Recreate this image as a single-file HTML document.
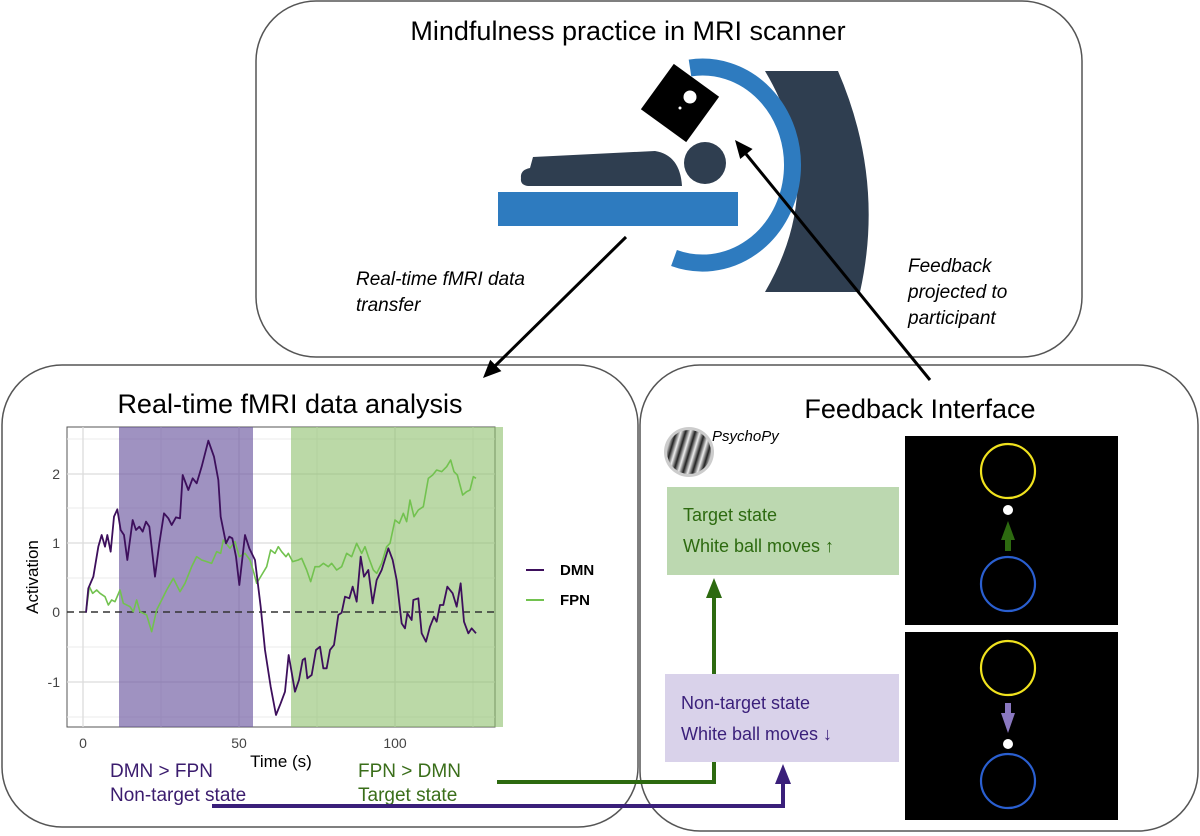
<!DOCTYPE html>
<html><head><meta charset="utf-8"><style>
html,body{margin:0;padding:0;background:#fff}
svg{display:block}
text{font-family:"Liberation Sans",sans-serif}
</style></head><body>
<svg width="1200" height="836" viewBox="0 0 1200 836" xmlns="http://www.w3.org/2000/svg">
<defs>
<linearGradient id="pg" x1="0" y1="0" x2="1" y2="0.3" spreadMethod="repeat"><stop offset="0" stop-color="#222"/><stop offset="0.1" stop-color="#eee"/><stop offset="0.2" stop-color="#222"/><stop offset="0.3" stop-color="#eee"/><stop offset="0.4" stop-color="#222"/><stop offset="0.5" stop-color="#eee"/><stop offset="0.6" stop-color="#222"/><stop offset="0.7" stop-color="#eee"/><stop offset="0.8" stop-color="#222"/><stop offset="0.9" stop-color="#eee"/><stop offset="1" stop-color="#222"/></linearGradient>
</defs>
<!-- boxes -->
<rect x="256" y="1" width="826" height="356" rx="60" fill="none" stroke="#555" stroke-width="1.5"/>
<rect x="2" y="365" width="636" height="462" rx="60" fill="none" stroke="#555" stroke-width="1.5"/>
<rect x="640" y="365" width="558" height="466" rx="60" fill="none" stroke="#555" stroke-width="1.5"/>

<text x="628" y="40" font-size="27" text-anchor="middle">Mindfulness practice in MRI scanner</text>
<text x="290" y="413" font-size="27" text-anchor="middle">Real-time fMRI data analysis</text>
<text x="920" y="418" font-size="27" text-anchor="middle">Feedback Interface</text>

<!-- MRI -->
<path d="M765,71 L838,71 Q885,180 860,292 L765,292 Q830,180 765,71 Z" fill="#2f3e50"/>
<path d="M690,68 A90,98 0 1 1 674,258" fill="none" stroke="#2e7bbf" stroke-width="17"/>
<rect x="498" y="192" width="240" height="34" fill="#2e7bbf"/>
<path d="M533,157 L655,151 Q680,155 682,186 L528,186 Q520,185 521,178 Q520,170 530,168 Z" fill="#2f3e50"/>
<circle cx="705" cy="163" r="21" fill="#2f3e50"/>
<g transform="translate(680,103) rotate(36)"><rect x="-28" y="-28" width="56" height="56" fill="#000"/></g>
<circle cx="690" cy="97" r="6.5" fill="#fff"/><circle cx="680" cy="108" r="1.5" fill="#fff"/>

<!-- arrows top -->
<line x1="626" y1="237" x2="495" y2="366" stroke="#000" stroke-width="3"/>
<path d="M483,378 L501.4,371.1 L490.2,359.7 Z" fill="#000"/>
<line x1="930" y1="380" x2="746" y2="154" stroke="#000" stroke-width="3"/>
<path d="M735,140 L752.6,149 L740.2,159 Z" fill="#000"/>
<text font-size="19" font-style="italic" x="356" y="285">Real-time fMRI data</text>
<text font-size="19" font-style="italic" x="356" y="311">transfer</text>
<text font-size="19" font-style="italic" x="908" y="272">Feedback</text>
<text font-size="19" font-style="italic" x="908" y="298">projected to</text>
<text font-size="19" font-style="italic" x="908" y="324">participant</text>

<!-- chart -->
<rect x="67" y="427" width="428" height="300" fill="#fff" stroke="#555" stroke-width="1"/>
<g stroke="#ebebeb" stroke-width="1">
<line x1="67" y1="439" x2="495" y2="439"/><line x1="67" y1="508" x2="495" y2="508"/><line x1="67" y1="578" x2="495" y2="578"/><line x1="67" y1="647" x2="495" y2="647"/><line x1="67" y1="717" x2="495" y2="717"/>
<line x1="161" y1="427" x2="161" y2="727"/><line x1="317" y1="427" x2="317" y2="727"/><line x1="473" y1="427" x2="473" y2="727"/>
</g>
<g stroke="#dcdcdc" stroke-width="1.3">
<line x1="67" y1="474" x2="495" y2="474"/><line x1="67" y1="543" x2="495" y2="543"/><line x1="67" y1="682" x2="495" y2="682"/>
<line x1="83" y1="427" x2="83" y2="727"/><line x1="239" y1="427" x2="239" y2="727"/><line x1="395" y1="427" x2="395" y2="727"/>
</g>
<rect x="119" y="427" width="134" height="300" fill="#6b58a0" opacity="0.65"/>
<rect x="291" y="427" width="212" height="300" fill="#8dbf6c" opacity="0.6"/>
<line x1="67" y1="612" x2="495" y2="612" stroke="#333" stroke-width="1.5" stroke-dasharray="7,5"/>
<g transform="translate(0,420) scale(0.33333)" fill="none" stroke-linejoin="round">
<polyline vector-effect="non-scaling-stroke" stroke="#72c24f" stroke-width="1.6" points="258,578 268,500 278,520 290,510 300,520 315,530 325,555 335,540 345,545 360,510 370,550 390,560 400,575 410,540 420,575 440,585 455,635 470,570 485,540 500,510 520,475 540,515 555,490 575,440 590,410 605,420 620,425 635,430 650,395 662,400 670,360 690,385 705,365 718,410 735,400 750,420 762,460 770,490 785,465 800,440 812,390 825,400 835,380 845,395 858,410 865,400 878,425 895,420 905,415 920,450 932,485 945,440 958,440 970,430 985,440 995,430 1010,450 1025,440 1040,400 1055,410 1070,370 1085,400 1095,380 1105,410 1120,450 1130,460 1145,430 1160,380 1170,370 1185,300 1198,310 1210,280 1220,305 1230,240 1242,290 1255,270 1270,260 1285,175 1298,165 1310,150 1325,155 1340,140 1352,120 1362,155 1372,165 1388,225 1400,215 1410,210 1420,170 1428,175"/>
<polyline vector-effect="non-scaling-stroke" stroke="#3d0f5c" stroke-width="1.8" points="258,578 265,505 280,470 295,380 305,345 315,380 322,345 332,395 342,290 352,268 362,330 372,345 382,420 398,300 408,330 418,320 428,335 438,305 448,320 465,470 478,370 492,280 505,295 515,315 528,292 540,295 548,165 565,210 578,175 590,190 605,140 625,62 642,110 655,180 662,290 678,370 688,350 697,355 708,410 718,495 735,345 748,385 765,420 782,560 795,690 812,800 828,885 842,850 855,815 866,705 885,815 897,780 908,720 915,715 922,775 935,765 948,690 960,680 970,745 980,745 990,690 1002,675 1015,585 1025,578 1035,530 1048,535 1058,500 1070,545 1082,410 1092,470 1105,450 1118,550 1130,480 1145,450 1165,385 1178,420 1190,480 1205,610 1215,625 1222,580 1235,600 1240,540 1255,535 1265,640 1278,665 1290,620 1302,590 1310,605 1320,555 1330,555 1342,500 1358,520 1370,560 1382,490 1392,605 1405,640 1415,625 1428,640"/>
</g>
<g font-size="14" fill="#444" text-anchor="end">
<text x="60" y="479">2</text><text x="60" y="548">1</text><text x="60" y="617">0</text><text x="60" y="687">-1</text>
</g>
<g font-size="14" fill="#444" text-anchor="middle">
<text x="83" y="748">0</text><text x="239" y="748">50</text><text x="395" y="748">100</text>
</g>
<text x="281" y="767" font-size="17" text-anchor="middle">Time (s)</text>
<text transform="translate(38,577) rotate(-90)" font-size="17" text-anchor="middle">Activation</text>
<line x1="526" y1="570" x2="544" y2="570" stroke="#3d0f5c" stroke-width="2"/>
<line x1="526" y1="600" x2="544" y2="600" stroke="#72c24f" stroke-width="2"/>
<text x="560" y="575" font-size="15" font-weight="bold">DMN</text>
<text x="560" y="605" font-size="15" font-weight="bold">FPN</text>

<g font-size="19">
<text x="110" y="777" fill="#3b1c6e">DMN &gt; FPN</text>
<text x="110" y="801" fill="#3b1c6e">Non-target state</text>
<text x="358" y="777" fill="#3a6e1a">FPN &gt; DMN</text>
<text x="358" y="801" fill="#3a6e1a">Target state</text>
</g>

<!-- connectors -->
<polyline points="497,782 714,782 714,596" fill="none" stroke="#2d6a10" stroke-width="4"/>
<path d="M706,598 L714,578 L722,598 Z" fill="#2d6a10"/>
<polyline points="212,806 783,806 783,782" fill="none" stroke="#3a1f7a" stroke-width="4"/>
<path d="M775,784 L783,764 L791,784 Z" fill="#3a1f7a"/>

<!-- psychopy -->
<circle cx="689" cy="452" r="25" fill="#ccc"/>
<circle cx="689" cy="452" r="22" fill="url(#pg)"/>
<text x="712" y="441" font-size="15" font-style="italic" font-family="Liberation Serif,serif">PsychoPy</text>

<rect x="667" y="487" width="232" height="88" fill="#bcd8b0"/>
<text x="683" y="521" font-size="18" fill="#2d6a10">Target state</text>
<text x="683" y="552" font-size="18" fill="#2d6a10">White ball moves ↑</text>
<rect x="665" y="674" width="234" height="88" fill="#d9d2ea"/>
<text x="681" y="709" font-size="18" fill="#3a1f7a">Non-target state</text>
<text x="681" y="740" font-size="18" fill="#3a1f7a">White ball moves ↓</text>

<!-- screens -->
<rect x="905" y="436" width="213" height="189" fill="#000"/>
<rect x="905" y="632" width="213" height="188" fill="#000"/>
<g fill="none" stroke-width="2.2">
<circle cx="1008" cy="471" r="27" stroke="#f0e21e"/>
<circle cx="1008" cy="584" r="27" stroke="#2a5fd0"/>
<circle cx="1008" cy="668" r="27" stroke="#f0e21e"/>
<circle cx="1008" cy="781" r="27" stroke="#2a5fd0"/>
</g>
<circle cx="1008" cy="510" r="5" fill="#fff"/>
<circle cx="1008" cy="744" r="5" fill="#fff"/>
<rect x="1005" y="538" width="6" height="13" fill="#2d6a10"/><path d="M1001,540 L1008,521 L1015,540 Z" fill="#2d6a10"/>
<rect x="1005" y="703" width="6" height="12" fill="#8a78c0"/><path d="M1001,713 L1008,733 L1015,713 Z" fill="#8a78c0"/>
</svg>
</body></html>
